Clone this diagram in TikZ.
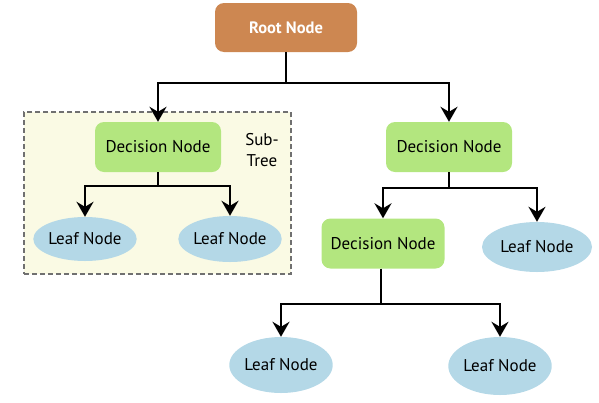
\documentclass[tikz,border=0pt]{standalone}
\usepackage{fontspec}
\setmainfont{PT Sans}
\usetikzlibrary{shapes.geometric,arrows.meta}
\definecolor{rootc}{HTML}{CD8751}
\definecolor{decc}{HTML}{B3E67F}
\definecolor{leafc}{HTML}{B4D8E7}
\definecolor{subc}{HTML}{FAFAE4}
\definecolor{borderc}{HTML}{707070}
\tikzset{
  rootbox/.style={rectangle, rounded corners=9pt, fill=rootc, text=white, minimum width=142pt, minimum height=49pt, font=\fontsize{16.5}{19}\selectfont\bfseries},
  decbox/.style={rectangle, rounded corners=9pt, fill=decc, minimum width=126pt, minimum height=50pt, font=\fontsize{17}{19}\selectfont},
  leafbox/.style={ellipse, fill=leafc, inner sep=0pt, font=\fontsize{17}{19}\selectfont},
  conn/.style={line width=2pt, black},
  arr/.style={conn, -{Stealth[length=15pt,width=17pt,inset=5pt]}},
}
\begin{document}
\begin{tikzpicture}[x=1pt,y=-1pt]
\useasboundingbox (0,0) rectangle (599,402);
\node[draw=borderc, dashed, line width=1.2pt, dash pattern=on 5pt off 3pt, fill=subc, minimum width=267pt, minimum height=162pt, inner sep=0pt] (sub) at (157.5,193) {};
\node[rootbox] (root) at (286,27.5) {Root Node};
\node[decbox] (d1) at (158,147) {Decision Node};
\node[decbox] (d2) at (449,147) {Decision Node};
\node[decbox, minimum width=123pt] (d3) at (383,243.5) {Decision Node};
\node[leafbox, minimum width=101pt, minimum height=44pt] (l1) at (85,239) {Leaf Node};
\node[leafbox, minimum width=101pt, minimum height=46pt] (l2) at (230,239) {Leaf Node};
\node[leafbox, minimum width=110pt, minimum height=50pt] (l3) at (537,247) {Leaf Node};
\node[leafbox, minimum width=99pt, minimum height=56pt] (l4) at (281,365) {Leaf Node};
\node[leafbox, minimum width=100pt, minimum height=58pt] (l5) at (500,366) {Leaf Node};
\node[align=center, font=\fontsize{17}{21}\selectfont] (st) at (262,150) {Sub-\\Tree};
\coordinate (j0) at (286,83);
\coordinate (j1) at (158,186);
\coordinate (j2) at (449,188);
\coordinate (j3) at (381,304);
\draw[conn] (root.south) -- (j0);
\draw[arr] (j0) -| (d1.north);
\draw[arr] (j0) -| (d2.north);
\draw[conn] (d1.south) -- (j1);
\draw[arr] (j1) -| (l1.north);
\draw[arr] (j1) -| (l2.north);
\draw[conn] (d2.south) -- (j2);
\draw[arr] (j2) -| (d3.north);
\draw[arr] (j2) -| (l3.north);
\draw[conn] (d3.south -| j3) -- (j3);
\draw[arr] (j3) -| (l4.north);
\draw[arr] (j3) -| (l5.north);
\end{tikzpicture}
\end{document}
